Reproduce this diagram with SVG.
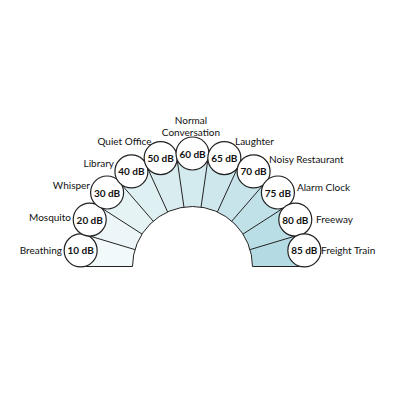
<svg xmlns="http://www.w3.org/2000/svg" width="400" height="400" viewBox="0 0 400 400">
<style>
.w{stroke:none}
.ln{stroke:#222;stroke-width:1;fill:none}
.c{fill:#fff;stroke:#222;stroke-width:1.2}
.db{font-family:Lato,"Liberation Sans",sans-serif;font-weight:bold;font-size:10px;fill:#111;text-anchor:middle;dominant-baseline:central}
.lb{font-family:Lato,"Liberation Sans",sans-serif;font-size:10px;fill:#111;dominant-baseline:central}
</style>
<rect width="400" height="400" fill="#fff"/>
<g id="fan">
<path class="w" fill="#f2f9fa" d="M79.5,266.5 A113,113 0 0 1 84.08,234.66 L134.93,249.60 A60,60 0 0 0 132.5,266.5 Z"/>
<path class="w" fill="#ecf6f8" d="M84.08,234.66 A113,113 0 0 1 97.44,205.41 L142.03,234.06 A60,60 0 0 0 134.93,249.60 Z"/>
<path class="w" fill="#e6f3f5" d="M97.44,205.41 A113,113 0 0 1 118.50,181.10 L153.21,221.16 A60,60 0 0 0 142.03,234.06 Z"/>
<path class="w" fill="#dff0f3" d="M118.50,181.10 A113,113 0 0 1 145.56,163.71 L167.58,211.92 A60,60 0 0 0 153.21,221.16 Z"/>
<path class="w" fill="#d9edf1" d="M145.56,163.71 A113,113 0 0 1 176.42,154.65 L183.96,207.11 A60,60 0 0 0 167.58,211.92 Z"/>
<path class="w" fill="#d3eaef" d="M176.42,154.65 A113,113 0 0 1 208.58,154.65 L201.04,207.11 A60,60 0 0 0 183.96,207.11 Z"/>
<path class="w" fill="#cde7ec" d="M208.58,154.65 A113,113 0 0 1 239.44,163.71 L217.42,211.92 A60,60 0 0 0 201.04,207.11 Z"/>
<path class="w" fill="#c7e4ea" d="M239.44,163.71 A113,113 0 0 1 266.50,181.10 L231.79,221.16 A60,60 0 0 0 217.42,211.92 Z"/>
<path class="w" fill="#c0e1e8" d="M266.50,181.10 A113,113 0 0 1 287.56,205.41 L242.98,234.06 A60,60 0 0 0 231.79,221.16 Z"/>
<path class="w" fill="#badee5" d="M287.56,205.41 A113,113 0 0 1 300.92,234.66 L250.07,249.60 A60,60 0 0 0 242.98,234.06 Z"/>
<path class="w" fill="#b4dbe3" d="M300.92,234.66 A113,113 0 0 1 305.5,266.5 L252.5,266.5 A60,60 0 0 0 250.07,249.60 Z"/>
</g>
<g id="connectors">
<path class="ln" d="M132.5,266.5 A60,60 0 0 1 252.5,266.5"/>
<path class="ln" d="M80,266.5 H132.5 M252.5,266.5 H305"/>
<path class="ln" d="M134.93,249.60 L87.96,235.51 M142.03,234.06 L99.96,207.03 M153.21,221.16 L120.47,183.37 M167.58,211.92 L146.80,166.44 M183.96,207.11 L176.85,157.62 M201.04,207.11 L208.15,157.62 M217.42,211.92 L238.20,166.44 M231.79,221.16 L264.53,183.37 M242.98,234.06 L285.04,207.03 M250.07,249.60 L297.04,235.51"/>
</g>
<g id="n10"><circle class="c" cx="80.65" cy="250.42" r="16.5"/><text class="db" x="80.65" y="250.42">10 dB</text><text class="lb" x="62" y="250" text-anchor="end">Breathing</text></g>
<g id="n20"><circle class="c" cx="89.71" cy="219.56" r="16.5"/><text class="db" x="89.71" y="219.56">20 dB</text><text class="lb" x="71" y="216.5" text-anchor="end">Mosquito</text></g>
<g id="n30"><circle class="c" cx="107.10" cy="192.50" r="16.5"/><text class="db" x="107.10" y="192.50">30 dB</text><text class="lb" x="90" y="185" text-anchor="end">Whisper</text></g>
<g id="n40"><circle class="c" cx="131.41" cy="171.44" r="16.5"/><text class="db" x="131.41" y="171.44">40 dB</text><text class="lb" x="114" y="163" text-anchor="end">Library</text></g>
<g id="n50"><circle class="c" cx="160.66" cy="158.08" r="16.5"/><text class="db" x="160.66" y="158.08">50 dB</text><text class="lb" x="124.5" y="141" text-anchor="middle">Quiet Office</text></g>
<g id="n60"><circle class="c" cx="192.5" cy="153.5" r="16.5"/><text class="db" x="192.5" y="153.5">60 dB</text><text class="lb" x="191" y="119.5" text-anchor="middle">Normal</text><text class="lb" x="191" y="131.5" text-anchor="middle">Conversation</text></g>
<g id="n65"><circle class="c" cx="224.34" cy="158.08" r="16.5"/><text class="db" x="224.34" y="158.08">65 dB</text><text class="lb" x="235" y="141">Laughter</text></g>
<g id="n70"><circle class="c" cx="253.59" cy="171.44" r="16.5"/><text class="db" x="253.59" y="171.44">70 dB</text><text class="lb" x="269" y="159">Noisy Restaurant</text></g>
<g id="n75"><circle class="c" cx="277.90" cy="192.50" r="16.5"/><text class="db" x="277.90" y="192.50">75 dB</text><text class="lb" x="297" y="187">Alarm Clock</text></g>
<g id="n80"><circle class="c" cx="295.29" cy="219.56" r="16.5"/><text class="db" x="295.29" y="219.56">80 dB</text><text class="lb" x="316" y="219">Freeway</text></g>
<g id="n85"><circle class="c" cx="304.35" cy="250.42" r="16.5"/><text class="db" x="304.35" y="250.42">85 dB</text><text class="lb" x="321" y="250">Freight Train</text></g>
</svg>
